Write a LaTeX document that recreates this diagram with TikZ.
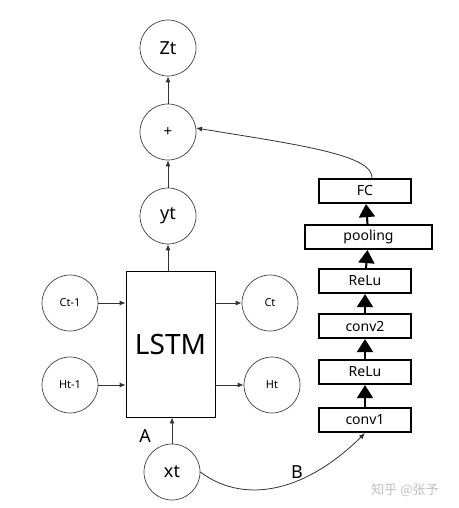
\documentclass[tikz,border=0pt]{standalone}
\usepackage{fontspec}
\setmainfont{Noto Sans}
\newfontfamily\cjk{Noto Sans CJK SC}
\usetikzlibrary{arrows.meta}
\begin{document}
\begin{tikzpicture}[x=1pt,y=-1pt,
  circ/.style={circle,draw=black!75,line width=0.7pt,minimum size=56pt,inner sep=0pt},
  layer/.style={draw=black,line width=2.2pt,minimum height=24pt,inner sep=0pt,font=\fontsize{14}{16}\selectfont},
  thin/.style={draw=black!80,line width=0.8pt,-{Latex[length=6pt,width=5pt]}},
  thick/.style={draw=black,line width=2pt,-{Triangle[length=13pt,width=16pt]}}]
\useasboundingbox (0,0) rectangle (458,508);
\node[circ,font=\fontsize{18}{20}\selectfont] (zt) at (168,48) {Zt};
\node[circ,font=\fontsize{15}{17}\selectfont] (plus) at (168,132) {+};
\node[circ,font=\fontsize{18}{20}\selectfont] (yt) at (168,216) {yt};
\node[draw=black,line width=0.8pt,minimum width=89pt,minimum height=146pt,inner sep=0pt,font=\fontsize{28}{30}\selectfont] (lstm) at (170.5,344) {LSTM};
\node[circ,font=\fontsize{11}{13}\selectfont] (ctm) at (70,303) {Ct-1};
\node[circ,font=\fontsize{11}{13}\selectfont] (htm) at (70,385) {Ht-1};
\node[circ,font=\fontsize{11}{13}\selectfont] (ct) at (270,303) {Ct};
\node[circ,font=\fontsize{11}{13}\selectfont] (ht) at (272,385) {Ht};
\node[circ,font=\fontsize{18}{20}\selectfont] (xt) at (172,472) {xt};
\node[font=\fontsize{18}{20}\selectfont] (la) at (145,436) {A};
\node[font=\fontsize{18}{20}\selectfont] (lb) at (297,472) {B};
\node[layer,minimum width=92pt] (fc) at (365,191) {FC};
\node[layer,minimum width=127pt] (pool) at (368.5,237) {pooling};
\node[layer,minimum width=92pt] (relu2) at (365,281) {ReLu};
\node[layer,minimum width=92pt] (conv2) at (365,326) {conv2};
\node[layer,minimum width=92pt] (relu1) at (365,372) {ReLu};
\node[layer,minimum width=92pt] (conv1) at (365,420) {conv1};
\node[font=\cjk\fontsize{13}{15}\selectfont,text=black!25] (wm) at (405,490) {知乎 @张予};
\draw[thin] (plus) -- (zt);
\draw[thin] (yt) -- (plus);
\draw[thin] (lstm.north -| yt) -- (yt);
\draw[thin] (ctm) -- (ctm -| lstm.west);
\draw[thin] (htm) -- (htm -| lstm.west);
\draw[thin] (ct -| lstm.east) -- (ct);
\draw[thin] (ht -| lstm.east) -- (ht);
\draw[thin] (xt) -- (xt |- lstm.south);
\draw[thin] (xt.east) .. controls (240,502) and (300,497) .. (conv1.south);
\coordinate (fctop) at (372,178.5);
\draw[thin] (fctop) .. controls (374,155) and (300,145) .. (plus.8);
\draw[thick] (pool) -- (fc);
\draw[thick] (relu2) -- (pool);
\draw[thick] (conv2) -- (relu2);
\draw[thick] (relu1) -- (conv2);
\draw[thick] (conv1) -- (relu1);
\end{tikzpicture}
\end{document}
